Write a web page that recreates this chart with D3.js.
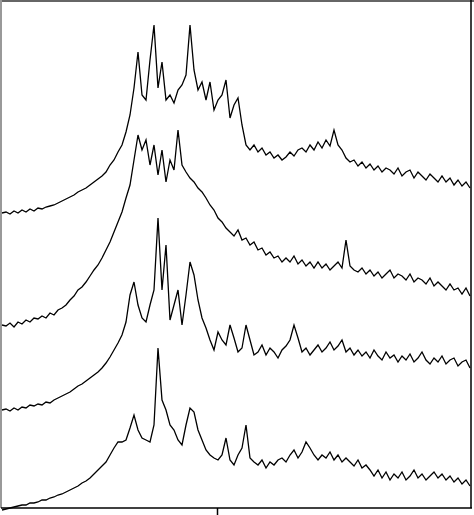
<!DOCTYPE html>
<html><head><meta charset="utf-8">
<script src="https://cdn.jsdelivr.net/npm/d3@7"></script>
<style>body{margin:0;background:#fff}svg{display:block}</style></head>
<body><div id="c"></div>
<script>
const step = 4;
const trace1 = [213,212,214,211,213,210,212,209,211,208,209,207,206,205,203,201,199,197,195,192,190,188,185,182,179,176,172,165,160,152,
145,132,115,88,52,95,100,60,25,88,62,100,95,103,90,85,75,25,70,90,82,100,82,110,100,95,80,118,105,98,
125,145,150,145,152,148,155,152,158,155,160,157,152,156,150,148,152,145,150,142,148,140,146,130,145,150,158,162,160,166,
162,168,164,170,166,172,168,170,174,168,176,172,170,178,172,176,180,174,178,182,176,182,178,185,180,186,182,188];
const trace2 = [325,326,323,327,322,324,320,322,318,319,316,318,313,315,310,308,305,300,296,290,287,282,276,270,265,258,250,242,232,222,
212,198,185,160,135,150,140,165,145,175,150,182,160,170,130,165,172,178,182,188,192,198,205,210,218,222,228,232,236,230,
240,238,245,242,250,248,255,252,258,256,262,258,262,256,264,260,266,262,268,262,268,264,270,266,262,268,240,266,270,272,
268,274,270,276,272,278,274,270,278,274,276,280,274,282,278,280,284,278,286,282,286,290,284,290,288,294,288,296];
const trace3 = [410,409,411,408,410,407,408,405,406,404,405,402,403,400,398,396,394,392,389,386,384,381,378,375,372,368,363,357,350,343,
335,322,295,282,305,318,322,305,290,218,290,245,320,305,290,325,295,262,275,300,318,328,340,350,332,340,345,325,338,352,
348,325,340,355,352,345,355,348,352,358,350,346,340,325,338,352,348,355,350,345,352,348,342,350,346,340,352,348,355,350,
356,352,358,350,356,360,352,358,355,362,356,360,354,362,358,352,360,364,358,362,356,364,360,358,366,362,360,368];
const trace4 = [510,509,508,507,506,505,505,503,503,502,500,500,498,497,495,494,492,490,488,486,483,481,478,474,470,466,462,455,448,442,
442,440,428,415,430,438,440,442,425,348,400,410,425,430,440,445,425,408,412,430,440,450,455,458,460,455,438,460,465,455,
448,425,458,462,465,460,468,462,465,460,458,462,455,450,458,452,442,448,455,460,455,458,452,460,455,462,458,462,466,460,
468,465,470,476,470,478,472,480,474,478,472,480,476,470,478,474,480,476,472,478,474,480,476,482,478,484,480,486];
const traces = [trace1, trace2, trace3, trace4];
const tickValues = [215];

const W = 474, H = 515;
const svg = d3.select("#c").append("svg").attr("width", W).attr("height", H);
const x = d3.scaleLinear().domain([0, 468]).range([2, 470]);
const y = d3.scaleLinear().domain([0, 515]).range([0, 515]);

// frame
svg.append("line").attr("x1",0).attr("x2",W).attr("y1",1).attr("y2",1).attr("stroke","#666").attr("stroke-width",2);
svg.append("line").attr("x1",1).attr("x2",1).attr("y1",0).attr("y2",508).attr("stroke","#999").attr("stroke-width",2);
svg.append("line").attr("x1",471).attr("x2",471).attr("y1",0).attr("y2",508).attr("stroke","#000").attr("stroke-width",1.5);

const axis = d3.axisBottom(x).tickValues(tickValues).tickSize(7).tickFormat("");
const g = svg.append("g").attr("transform","translate(0,508)").call(axis);
g.select(".domain").attr("stroke","#000").attr("stroke-width",1.5).attr("d","M1,0H472");
g.selectAll(".tick line").attr("stroke","#000").attr("stroke-width",1.5);

const line = d3.line().x((d,i)=>x(i*step)).y(d=>y(d));
traces.forEach(t=>{
  svg.append("path").datum(t).attr("d",line).attr("fill","none").attr("stroke","#000").attr("stroke-width",1.3);
});
</script></body></html>
